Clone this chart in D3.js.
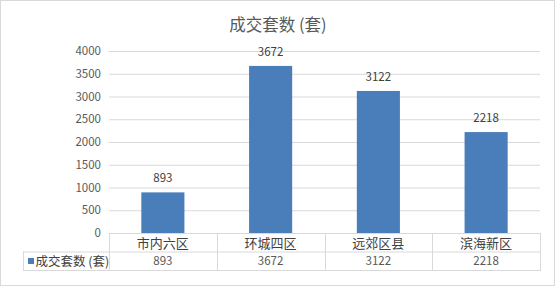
<!DOCTYPE html>
<html>
<head>
<meta charset="utf-8">
<script src="https://cdn.jsdelivr.net/npm/d3@7/dist/d3.min.js"></script>
<style>
  body { margin: 0; background: #fff; }
  text { font-family: "Noto Sans CJK SC", "Microsoft YaHei", sans-serif; }
</style>
</head>
<body>
<script>
const categories = ['市内六区', '环城四区', '远郊区县', '滨海新区']
const values = [893, 3672, 3122, 2218]
const yTicks = [0, 500, 1000, 1500, 2000, 2500, 3000, 3500, 4000]
const seriesName = '成交套数 (套)'
const title = '成交套数 (套)'

const WIDTH = 556
const HEIGHT = 288
const plotLeft = 109
const plotRight = 540
const plotTop = 51
const plotBottom = 233
const rowH = 18.5

const svg = d3.select(document.body).append('svg')
  .attr('width', WIDTH)
  .attr('height', HEIGHT)

// chart border
svg.append('rect')
  .attr('x', 0.5).attr('y', 0.5)
  .attr('width', 554).attr('height', 285)
  .attr('fill', '#fff')
  .attr('stroke', '#d9d9d9')

svg.append('text')
  .attr('x', 278).attr('y', 31)
  .attr('text-anchor', 'middle')
  .attr('font-size', 16.5)
  .attr('fill', '#595959')
  .text(title)

const x = d3.scaleBand().domain(categories).range([plotLeft, plotRight]).paddingInner(0).paddingOuter(0)
const y = d3.scaleLinear().domain([0, 4000]).range([plotBottom, plotTop])

// gridlines + tick labels
const yAxis = svg.append('g')
  .attr('transform', `translate(${plotLeft},0)`)
  .call(d3.axisLeft(y).tickValues(yTicks).tickFormat(d3.format('d'))
    .tickSize(-(plotRight - plotLeft)).tickPadding(8))
yAxis.select('.domain').remove()
yAxis.selectAll('.tick line').attr('stroke', '#d9d9d9')
yAxis.selectAll('.tick text')
  .attr('fill', '#595959')
  .attr('font-size', 11.5)
  .attr('font-family', '"Noto Sans CJK SC", sans-serif')

const barW = x.bandwidth() * 0.4
svg.append('g').selectAll('rect')
  .data(values)
  .enter()
  .append('rect')
  .attr('x', (d, i) => x(categories[i]) + (x.bandwidth() - barW) / 2)
  .attr('y', d => y(d))
  .attr('width', barW)
  .attr('height', d => y(0) - y(d))
  .attr('fill', '#4a7ebb')

svg.append('g').selectAll('text')
  .data(values)
  .enter()
  .append('text')
  .attr('x', (d, i) => x(categories[i]) + x.bandwidth() / 2)
  .attr('y', d => y(d) - 10)
  .attr('text-anchor', 'middle')
  .attr('font-size', 11.5)
  .attr('fill', '#404040')
  .text(d => d)

// data table
const grid = svg.append('g').attr('stroke', '#d9d9d9').attr('fill', 'none')
const tLeft = 23
grid.append('line').attr('x1', plotLeft).attr('x2', plotRight).attr('y1', plotBottom + 0.5).attr('y2', plotBottom + 0.5)
grid.append('line').attr('x1', tLeft).attr('x2', plotRight).attr('y1', plotBottom + rowH + 0.5).attr('y2', plotBottom + rowH + 0.5)
grid.append('line').attr('x1', tLeft).attr('x2', plotRight).attr('y1', plotBottom + 2 * rowH + 0.5).attr('y2', plotBottom + 2 * rowH + 0.5)
grid.append('line').attr('x1', tLeft + 0.5).attr('x2', tLeft + 0.5).attr('y1', plotBottom + rowH).attr('y2', plotBottom + 2 * rowH + 1)
categories.concat(['end']).forEach((c, i) => {
  const xx = Math.round(plotLeft + i * x.bandwidth()) + 0.5
  grid.append('line').attr('x1', xx).attr('x2', xx).attr('y1', plotBottom).attr('y2', plotBottom + 2 * rowH + 1)
})

svg.append('g').selectAll('text')
  .data(categories)
  .enter()
  .append('text')
  .attr('x', d => x(d) + x.bandwidth() / 2)
  .attr('y', plotBottom + 14.5)
  .attr('text-anchor', 'middle')
  .attr('font-size', 13)
  .attr('fill', '#404040')
  .text(d => d)

svg.append('g').selectAll('text')
  .data(values)
  .enter()
  .append('text')
  .attr('x', (d, i) => x(categories[i]) + x.bandwidth() / 2)
  .attr('y', plotBottom + rowH + 13.5)
  .attr('text-anchor', 'middle')
  .attr('font-size', 11.5)
  .attr('fill', '#595959')
  .text(d => d)

svg.append('rect')
  .attr('x', 28).attr('y', 258)
  .attr('width', 6).attr('height', 6)
  .attr('fill', '#4a7ebb')
svg.append('text')
  .attr('x', 35.5).attr('y', plotBottom + rowH + 14)
  .attr('font-size', 12.5)
  .attr('fill', '#404040')
  .text(seriesName)
</script>
</body>
</html>
